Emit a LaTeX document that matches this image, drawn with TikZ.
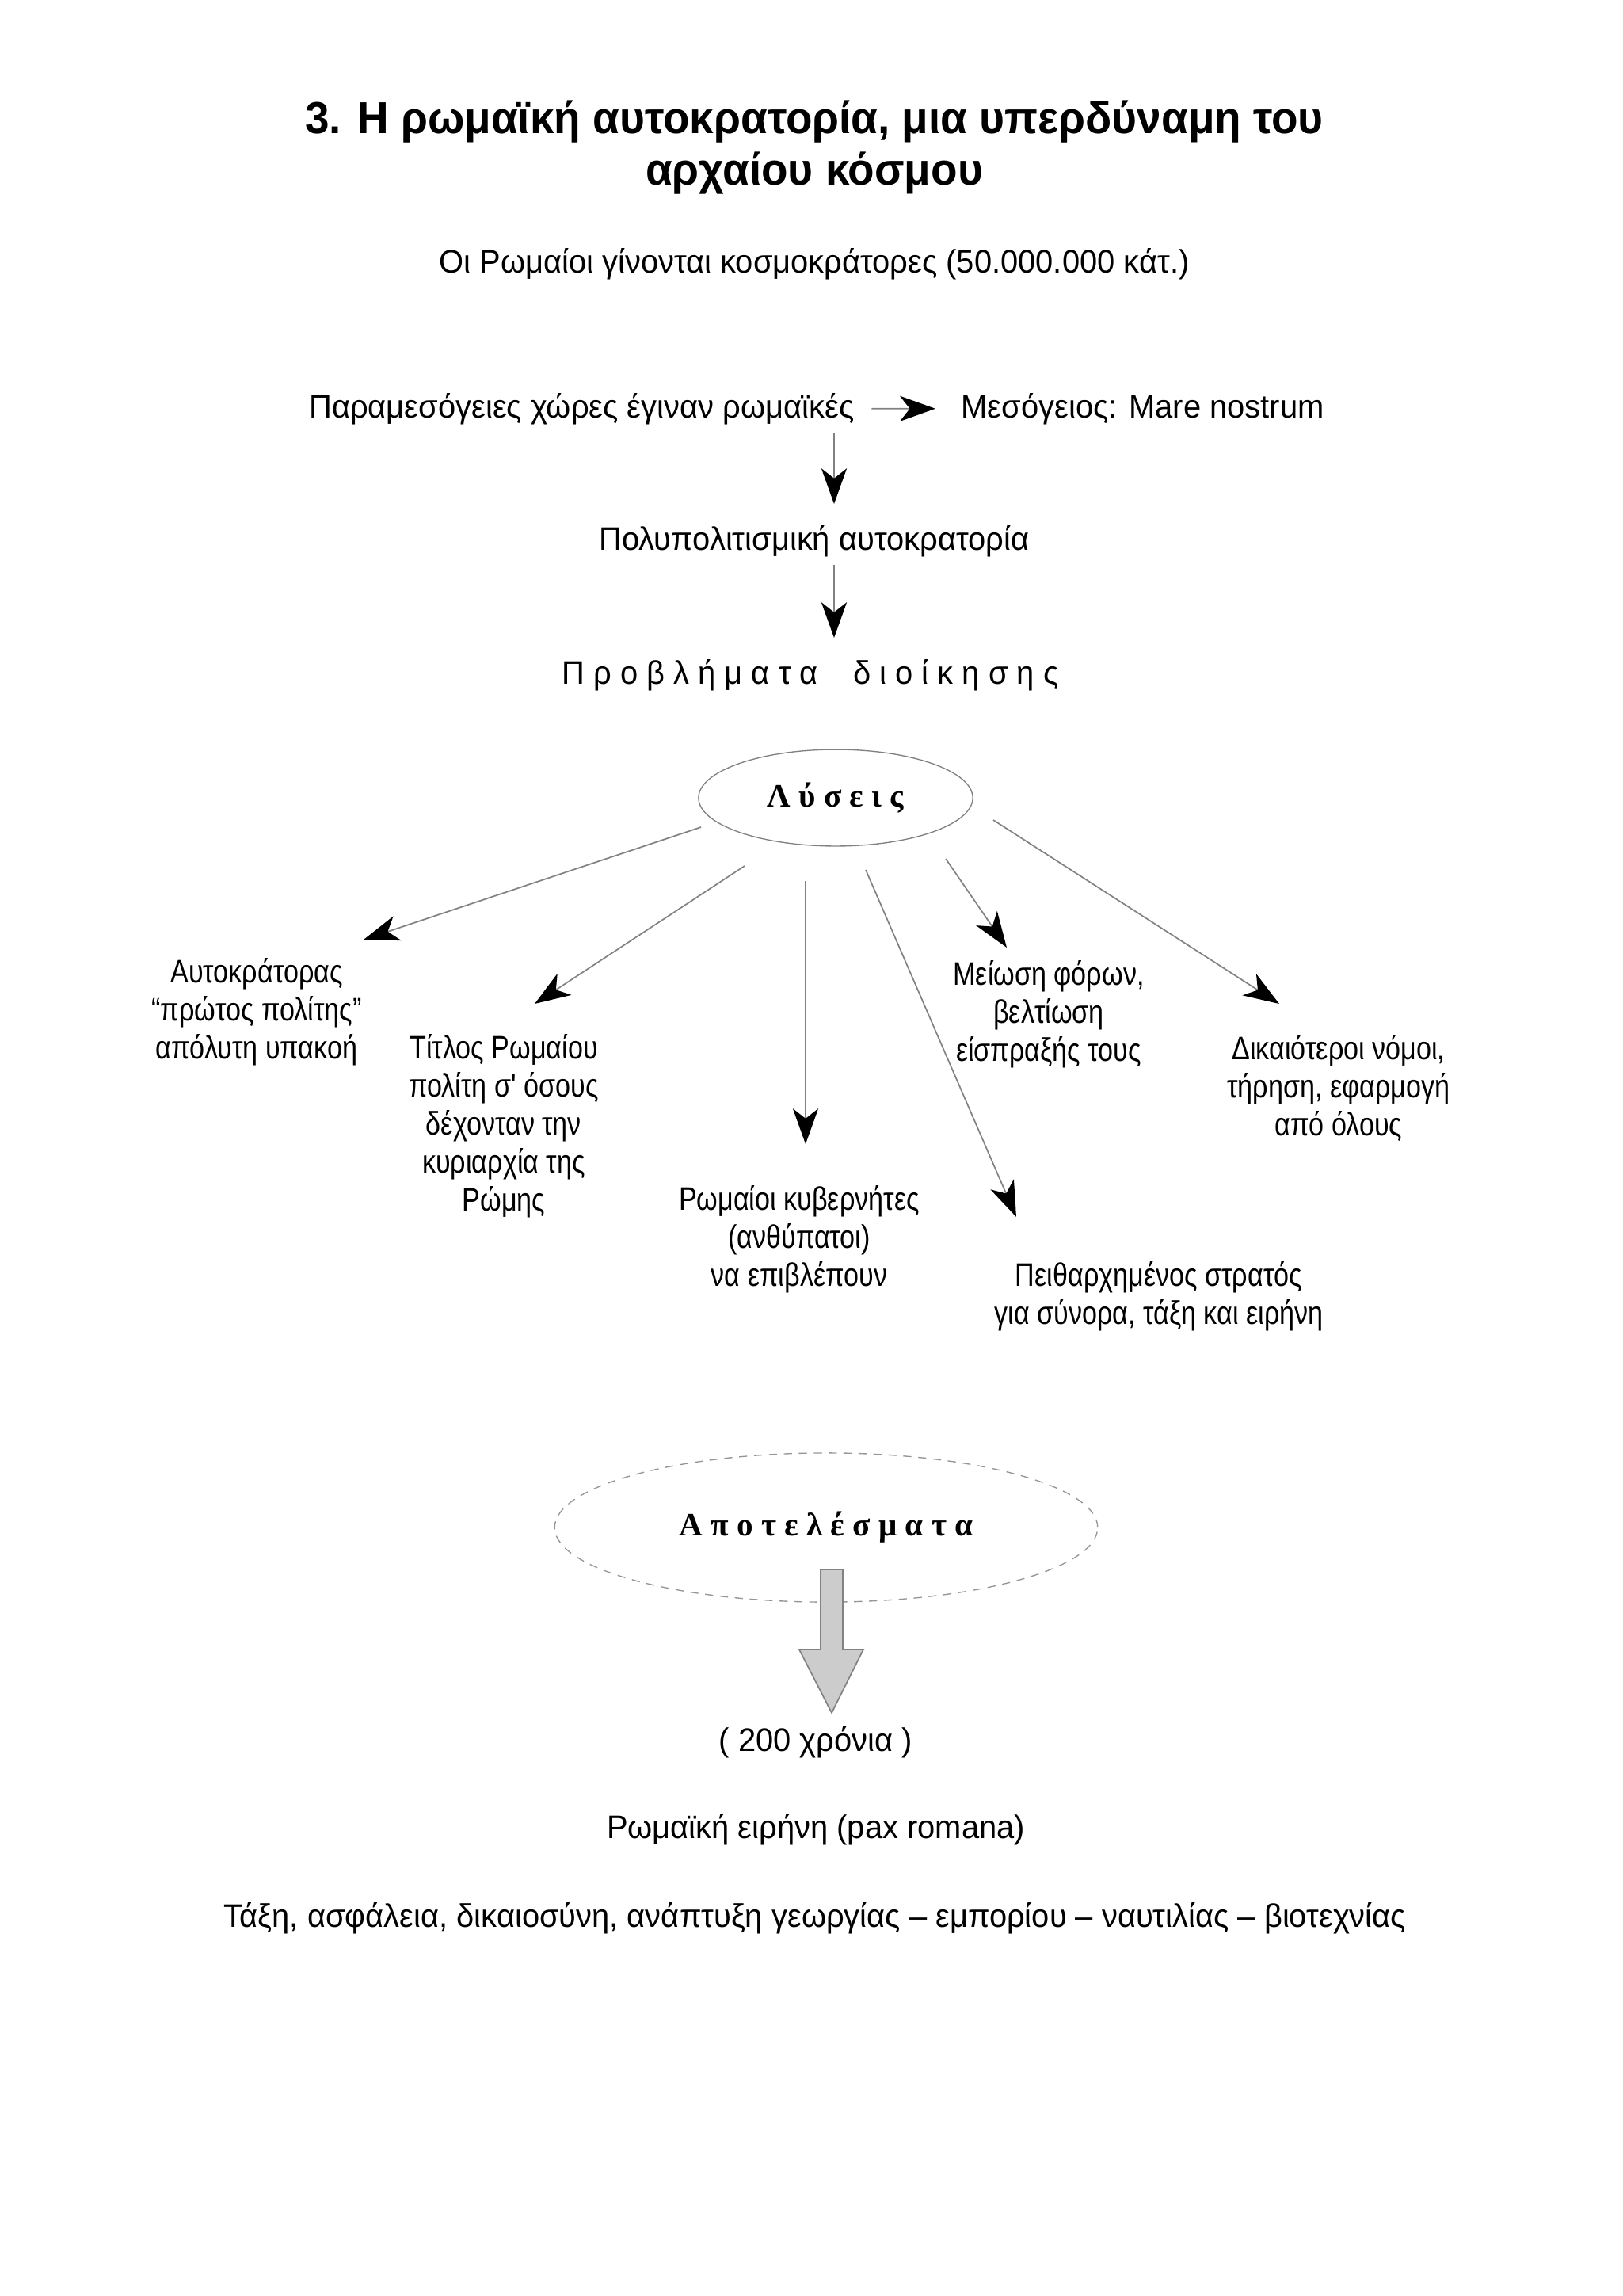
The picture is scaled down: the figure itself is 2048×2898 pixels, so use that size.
\documentclass[tikz,border=0pt]{standalone}
\usepackage{fontspec}
\setmainfont{Liberation Sans}[FakeStretch=0.97]
\newfontfamily\narrowfont{Liberation Sans}[FakeStretch=0.83]
\newfontfamily\timesfont{Liberation Serif}
\usepackage{xcolor}
\usepackage{tikz}
\usetikzlibrary{arrows.meta, calc, shapes.geometric}
\definecolor{linegray}{RGB}{130,130,130}
\definecolor{dashgray}{RGB}{150,150,150}
\definecolor{blockgray}{RGB}{204,204,204}

\begin{document}
\begin{tikzpicture}[x=0.010254cm, y=-0.010254cm,
		txt/.style={inner sep=0pt, align=center, font=\fontsize{12}{14}\selectfont},
		spoketxt/.style={inner sep=0pt, align=center, font=\fontsize{12}{14}\selectfont\narrowfont},
		titletxt/.style={inner sep=0pt, align=center, font=\fontsize{16.5}{19}\selectfont\bfseries},
		conn/.style={draw=linegray, line width=0.5pt, -{Stealth[length=4.6mm, width=3.3mm, inset=1.3mm, color=black, fill=black]}},
		bubble/.style={ellipse, inner sep=0pt, font=\fontsize{12}{14}\selectfont\timesfont\bfseries}]
			\useasboundingbox (0,0) rectangle (2048,2898);
			\node[titletxt] (title) at (1028,186) {3. Η ρωμαϊκή αυτοκρατορία, μια υπερδύναμη του\\αρχαίου κόσμου};
			\node[txt, anchor=base] (kosmo) at (1028,344) {Οι Ρωμαίοι γίνονται κοσμοκράτορες (50.000.000 κάτ.)};
			\node[txt, anchor=base east] (para) at (1079,527) {Παραμεσόγειες χώρες έγιναν ρωμαϊκές};
			\node[txt, anchor=base west] (mare) at (1213,527) {Μεσόγειος: Mare nostrum};
			\node[txt, anchor=base] (poly) at (1028,694) {Πολυπολιτισμική αυτοκρατορία};
			\node[txt, anchor=base] (provl) at (1023,863) {Π ρ ο β λ ή μ α τ α \ \ \ δ ι ο ί κ η σ η ς};
			\draw[conn, shorten <=2.2mm, shorten >=3.3mm] (para.east) -- (mare.west);
			\coordinate (d1) at (1053,546);
			\coordinate (d2) at (1053,636);
			\coordinate (d3) at (1053,713);
			\coordinate (d4) at (1053,805);
			\draw[conn] (d1) -- (d2);
			\draw[conn] (d3) -- (d4);

			\node[bubble, draw=linegray, minimum width=3.55cm, minimum height=1.25cm] (lyseis) at (1055,1007) {Λ ύ σ ε ι ς};
			\node[spoketxt] (aut) at (324,1277) {Αυτοκράτορας\\“πρώτος πολίτης”\\απόλυτη υπακοή};
			\node[spoketxt] (titlos) at (636,1421) {Τίτλος Ρωμαίου\\πολίτη σ' όσους\\δέχονταν την\\κυριαρχία της\\Ρώμης};
			\node[spoketxt] (kyv) at (1009,1564) {Ρωμαίοι κυβερνήτες\\(ανθύπατοι)\\να επιβλέπουν};
			\node[spoketxt] (strat) at (1463,1636) {Πειθαρχημένος στρατός\\για σύνορα, τάξη και ειρήνη};
			\node[spoketxt] (meiosi) at (1324,1280) {Μείωση φόρων,\\βελτίωση\\είσπραξής τους};
			\node[spoketxt] (dik) at (1690,1374) {Δικαιότεροι νόμοι,\\τήρηση, εφαρμογή\\από όλους};
			\foreach \n/\sx/\sy/\tx/\ty in {1/885/1044/459/1186, 2/940/1093/675/1267, 3/1017/1112/1017/1444,
					4/1093/1098/1283/1536, 5/1194/1084/1271/1196, 6/1254/1035/1615/1267} {
				\coordinate (s\n) at (\sx,\sy);
				\coordinate (t\n) at (\tx,\ty);
				\draw[conn] (s\n) -- (t\n);
			}

			\node[bubble, draw=dashgray, dash pattern=on 3pt off 2.5pt, minimum width=7.03cm, minimum height=1.93cm] (apot) at (1043,1928) {Α π ο τ ε λ έ σ μ α τ α};
			\coordinate (bt) at (1050,1981);
			\draw[draw=linegray, fill=blockgray, line width=0.5pt] (bt) ++(-14,0) -- ++(28,0) -- ++(0,101) -- ++(26,0) -- ++(-40,80) -- ++(-41,-80) -- ++(27,0) -- cycle;
			\node[txt, anchor=base] (xronia) at (1030,2210) {( 200 χρόνια )};
			\node[txt, anchor=base] (pax) at (1030,2320) {Ρωμαϊκή ειρήνη (pax romana)};
			\node[txt, anchor=base] (taxi) at (1029,2432) {Τάξη, ασφάλεια, δικαιοσύνη, ανάπτυξη γεωργίας – εμπορίου – ναυτιλίας – βιοτεχνίας};
		\end{tikzpicture}
\end{document}
